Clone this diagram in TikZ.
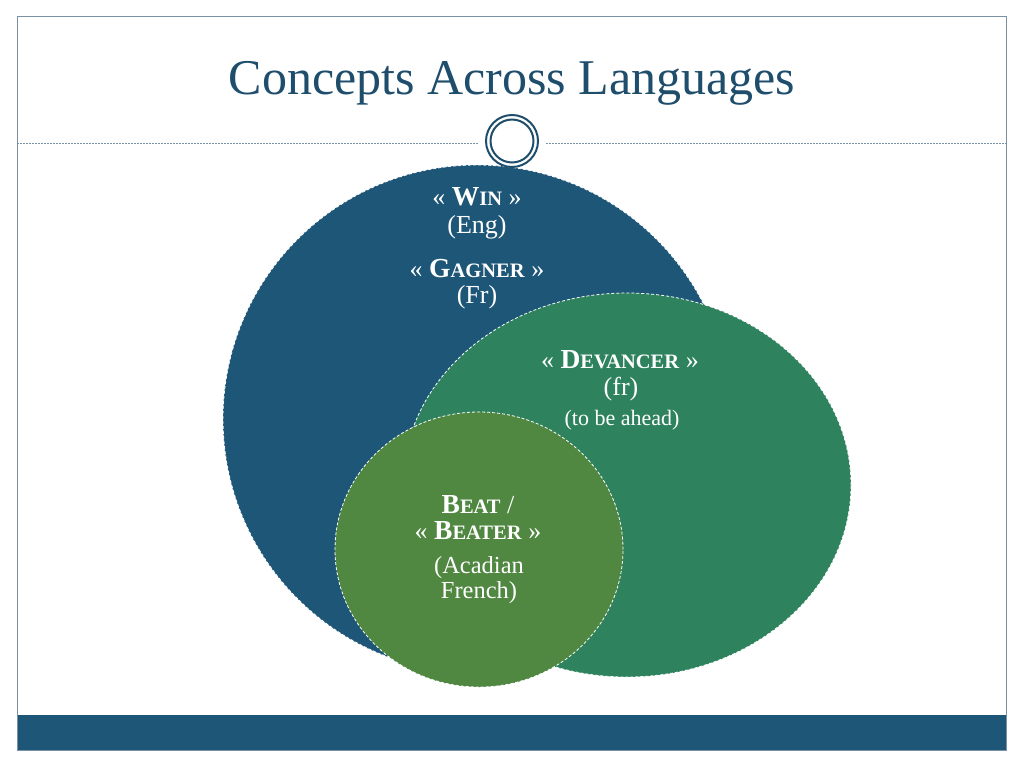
\documentclass[tikz,border=0pt]{standalone}
\usepackage{fontspec}
\setmainfont{Liberation Serif}
\definecolor{titleblue}{RGB}{31,78,109}
\definecolor{bigblue}{RGB}{30,86,120}
\definecolor{midgreen}{RGB}{46,131,94}
\definecolor{leafgreen}{RGB}{80,135,65}
\definecolor{framecol}{RGB}{120,145,165}
\newcommand{\bsc}[2]{\textbf{{\fontsize{27.5}{30}\selectfont #1}{\fontsize{20.5}{20}\selectfont #2}}}
\tikzset{
  blob/.style={draw=white, line width=0.8pt, dash pattern=on 3pt off 2pt},
  txt/.style={anchor=base, text=white, inner sep=0pt, font=\fontsize{26}{30}\selectfont},
  tighttxt/.style={anchor=base, text=white, inner sep=0pt, font=\fontsize{24.5}{28}\selectfont},
  smalltxt/.style={anchor=base, text=white, inner sep=0pt, font=\fontsize{22}{26}\selectfont},
  rule/.style={draw=framecol, line width=1pt, dash pattern=on 2pt off 1pt}
}
\begin{document}
\begin{tikzpicture}[x=1pt,y=-1pt]
\useasboundingbox (0,0) rectangle (1024,768);
\fill[white] (0,0) rectangle (1024,768);
% frame and bottom bar
\fill[bigblue] (17,715) rectangle (1006,750);
\draw[framecol, line width=1pt] (17,17) rectangle (1006,750);
% title
\node[anchor=base, inner sep=0pt, text=titleblue, font=\fontsize{50}{60}\selectfont] (title) at (512,94) {Concepts Across Languages};
% dashed rule with ornament
\coordinate (rl1) at (17,143);
\coordinate (rl2) at (478,143);
\coordinate (rr1) at (546,143);
\coordinate (rr2) at (1006,143);
\draw[rule] (rl1) -- (rl2);
\draw[rule] (rr1) -- (rr2);
% circles
\fill[bigblue] (477,419) ellipse [x radius=254pt, y radius=254pt];
\draw[blob] (477,419) ellipse [x radius=254pt, y radius=254pt];
\fill[midgreen] (627,485) ellipse [x radius=224pt, y radius=192pt];
\draw[blob] (627,485) ellipse [x radius=224pt, y radius=192pt];
\fill[leafgreen] (479,549.5) ellipse [x radius=144pt, y radius=137.5pt];
\draw[blob] (479,549.5) ellipse [x radius=144pt, y radius=137.5pt];
% ornament
\node[circle, fill=white, draw=titleblue, line width=2pt, minimum size=52pt, inner sep=0pt] (orn) at (512,141) {};
\node[circle, draw=titleblue, line width=2pt, minimum size=43pt, inner sep=0pt] (orninner) at (512,141) {};
% blue circle text
\node[txt] (win) at (477,205) {« \bsc{W}{IN} »};
\node[txt] (eng) at (477,233) {(Eng)};
\node[txt] (gagner) at (477,277) {« \bsc{G}{AGNER} »};
\node[txt] (fr1) at (477,303) {(Fr)};
% green ellipse text
\node[txt] (devancer) at (620,368) {« \bsc{D}{EVANCER} »};
\node[txt] (fr2) at (621,395) {(fr)};
\node[smalltxt] (ahead) at (622,425) {(to be ahead)};
% small circle text
\node[txt] (beat) at (478,513) {\bsc{B}{EAT} /};
\node[txt] (beater) at (478,539) {« \bsc{B}{EATER} »};
\node[tighttxt] (acadian) at (479,573) {(Acadian};
\node[tighttxt] (french) at (479,598) {French)};
\end{tikzpicture}
\end{document}
